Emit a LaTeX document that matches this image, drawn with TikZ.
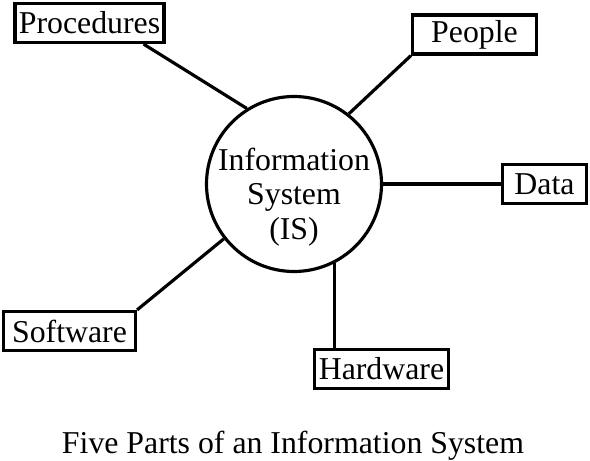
\documentclass[tikz,border=0pt]{standalone}
\usepackage{fontspec}
\setmainfont{Liberation Serif}
\usetikzlibrary{positioning}

\begin{document}
\begin{tikzpicture}[line width=1.8pt,
    every node/.style={font=\fontsize{18.1}{19.6}\selectfont},
    part/.style={draw, rectangle, minimum height=0.78cm, inner sep=2pt}]
    \useasboundingbox (0,0) rectangle (11.8,9.2);

    % Central circle
    \node[draw, circle, minimum size=3.5cm, inner sep=0pt] (is) at (5.88,5.52) {};
    \node[align=center] (istext) at (5.88,5.26) {Information\\System\\(IS)};

    % The five parts
    \node[part, minimum width=2.98cm] (proc) at (1.79,8.74) {Procedures};
    \node[part, minimum width=2.48cm] (people) at (9.49,8.51) {People};
    \node[part, minimum width=1.68cm] (data) at (10.89,5.52) {Data};
    \node[part, minimum width=2.68cm] (hw) at (7.63,1.82) {Hardware};
    \node[part, minimum width=2.64cm] (sw) at (1.39,2.58) {Software};

    % Connectors
    \draw ([xshift=-0.44cm]proc.south east) -- (is.122);
    \draw (people.south west) -- (is.52);
    \draw (is.east) -- (data.west);
    \draw (is.-63) -- (is.-63 |- hw.north);
    \draw (sw.north east) -- (is.218);

    % Caption
    \node[anchor=base] (caption) at (5.86,0.14) {Five Parts of an Information System};
\end{tikzpicture}
\end{document}
